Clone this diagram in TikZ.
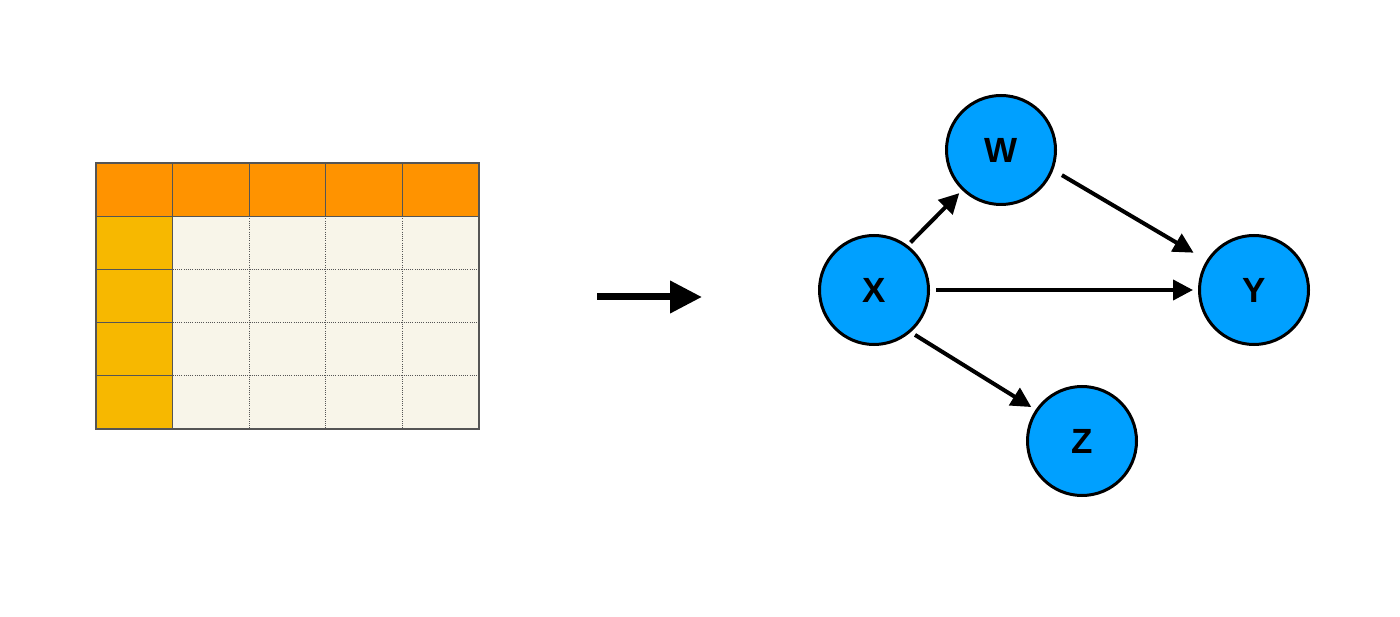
\documentclass[tikz,border=0pt]{standalone}
\usepackage{fontspec}
\setmainfont{Liberation Sans}
\usetikzlibrary{arrows.meta}
\definecolor{hdr}{HTML}{FF9300}
\definecolor{firstcol}{HTML}{F7B800}
\definecolor{cellbg}{HTML}{F8F5E9}
\definecolor{nodeblue}{HTML}{00A0FF}
\definecolor{gridgray}{HTML}{555555}
\tikzset{
  varnode/.style={circle, draw=black, line width=3pt, fill=nodeblue, minimum size=109pt, inner sep=0pt,
    font=\fontsize{35}{40}\selectfont\bfseries},
  edge/.style={line width=4pt, -{Triangle[length=20pt,width=20pt]}},
  solidgrid/.style={draw=gridgray, line width=1.3pt},
  dotgrid/.style={draw=gridgray, line width=0.9pt, dash pattern=on 1pt off 1.2pt},
}
\begin{document}
\begin{tikzpicture}[x=1pt,y=-1pt]
\useasboundingbox (0,0) rectangle (1400,617);
% table
\def\cw{76.6}
\def\rh{53.2}
\fill[cellbg] (96,163) rectangle (479,429);
\fill[hdr] (96,163) rectangle (479,216.2);
\fill[firstcol] (96,216.2) rectangle (172.6,429);
% dotted interior
\foreach \i in {2,3,4} {
  \draw[dotgrid] (96+\i*\cw,216.2) -- (96+\i*\cw,429);
}
\foreach \j in {2,3,4} {
  \draw[dotgrid] (172.6,163+\j*\rh) -- (479,163+\j*\rh);
}
% solid lines
\foreach \i in {1,2,3,4} {
  \draw[solidgrid] (96+\i*\cw,163) -- (96+\i*\cw,216.2);
}
\draw[solidgrid] (172.6,216.2) -- (172.6,429);
\foreach \j in {1,2,3,4} {
  \draw[solidgrid] (96,163+\j*\rh) -- (172.6,163+\j*\rh);
}
\draw[solidgrid] (96,216.2) -- (479,216.2);
\draw[solidgrid] (96,163) rectangle (479,429);
% big arrow
\coordinate (ba) at (597,297);
\coordinate (bb) at (702,297);
\draw[line width=7pt, -{Triangle[length=32pt,width=31pt]}] (ba) -- (bb);
% graph
\node[varnode] (X) at (874,290) {X};
\node[varnode] (W) at (1001,150) {W};
\node[varnode] (Y) at (1254,290) {Y};
\node[varnode] (Z) at (1082,441) {Z};
\draw[edge, shorten <=4pt, shorten >=4pt] (X.53) -- (W.226);
\draw[edge, shorten <=6pt, shorten >=5pt] (X.0) -- (Y.180);
\draw[edge, shorten <=10pt, shorten >=15pt] (W.-21.5) -- (Y.148);
\draw[edge, shorten <=5pt, shorten >=5pt] (X.-49) -- (Z.146);
\end{tikzpicture}
\end{document}
